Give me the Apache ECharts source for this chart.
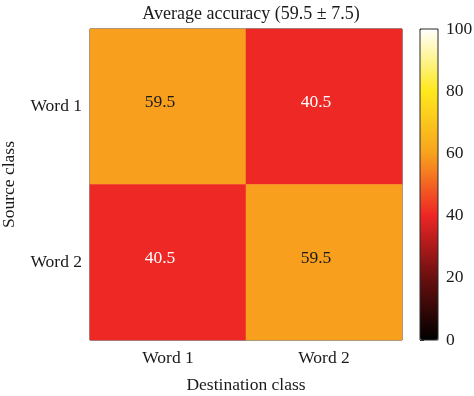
<!DOCTYPE html>
<html><head><meta charset="utf-8">
<script src="https://cdn.jsdelivr.net/npm/echarts@6/dist/echarts.min.js"></script>
<style>html,body{margin:0;padding:0;background:#fff}#c{width:474px;height:396px}</style>
</head><body><div id="c"></div>
<script>
const xCategories = ['Word 1', 'Word 2'];
const yCategories = ['Word 2', 'Word 1'];
// rows: source class (Word 1, Word 2); cols: destination class
const sourceClasses = ['Word 1', 'Word 2'];
const word1Row = [59.5, 40.5];
const word2Row = [40.5, 59.5];
const colorbarTicks = [0, 20, 40, 60, 80, 100];
const titleText = 'Average accuracy (59.5 \u00b1 7.5)';

const rows = {'Word 1': word1Row, 'Word 2': word2Row};
const data = [];
sourceClasses.forEach(src => {
  rows[src].forEach((v, j) => data.push({
    value: [xCategories[j], src, v],
    label: {color: v < 50 ? '#ffffff' : '#1a1a1a'}
  }));
});

const FONT = '"Liberation Serif", "DejaVu Serif", serif';
const FS = 17.5;
const chart = echarts.init(document.getElementById('c'), null, {renderer: 'canvas'});
chart.setOption({
  animation: false,
  backgroundColor: '#fff',
  textStyle: {fontFamily: FONT},
  title: {text: titleText, left: 246, top: 0, textAlign: 'center',
    textStyle: {fontFamily: FONT, fontSize: 18, fontWeight: 'normal', color: '#1a1a1a'}},
  grid: [
    {left: 90, top: 29, width: 312, height: 311, show: true, borderColor: '#2a2a2a', borderWidth: 1, backgroundColor: 'transparent', outerBoundsMode: 'none', containLabel: false},
    {left: 420, top: 29, width: 18, height: 311, show: true, borderColor: '#2a2a2a', borderWidth: 1, backgroundColor: 'transparent', z: 10, outerBoundsMode: 'none', containLabel: false}
  ],
  xAxis: [
    {type: 'category', data: xCategories, gridIndex: 0, name: 'Destination class', nameLocation: 'middle', nameGap: 36,
     nameTextStyle: {fontFamily: FONT, fontSize: FS, color: '#1a1a1a'},
     axisLine: {show: false}, axisTick: {alignWithLabel: true, length: 4, lineStyle: {color: '#333'}},
     axisLabel: {fontFamily: FONT, fontSize: FS, color: '#1a1a1a', margin: 9}, splitArea: {show: false}},
    {type: 'value', gridIndex: 1, show: false}
  ],
  yAxis: [
    {type: 'category', data: yCategories, gridIndex: 0, name: 'Source class', nameLocation: 'middle', nameGap: 72, nameRotate: 90,
     nameTextStyle: {fontFamily: FONT, fontSize: FS, color: '#1a1a1a'},
     axisLine: {show: false}, axisTick: {alignWithLabel: true, length: 4, lineStyle: {color: '#333'}},
     axisLabel: {fontFamily: FONT, fontSize: FS, color: '#1a1a1a', margin: 8}},
    {type: 'value', gridIndex: 1, min: 0, max: 100, interval: 20, position: 'right',
     axisLine: {show: false}, axisTick: {show: true, length: 4, lineStyle: {color: '#333'}},
     splitLine: {show: false},
     axisLabel: {fontFamily: FONT, fontSize: FS, color: '#1a1a1a', margin: 8,
       formatter: v => colorbarTicks.includes(v) ? String(v) : ''}}
  ],
  visualMap: {
    type: 'continuous', min: 0, max: 100, calculable: false, show: true,
    orient: 'vertical', left: 420, top: 29, itemWidth: 18, itemHeight: 311, padding: 0,
    text: null, showLabel: false, seriesIndex: 0,
    inRange: {color: ['#000000', '#6a0f0f', '#ee2525', '#f8a21e', '#ffe81c', '#ffffff']}
  },
  series: [{
    type: 'heatmap', xAxisIndex: 0, yAxisIndex: 0, data: data,
    label: {show: true, fontFamily: FONT, fontSize: FS, offset: [-8, -4]},
    itemStyle: {borderWidth: 0},
    emphasis: {disabled: true}
  }]
});
</script></body></html>
